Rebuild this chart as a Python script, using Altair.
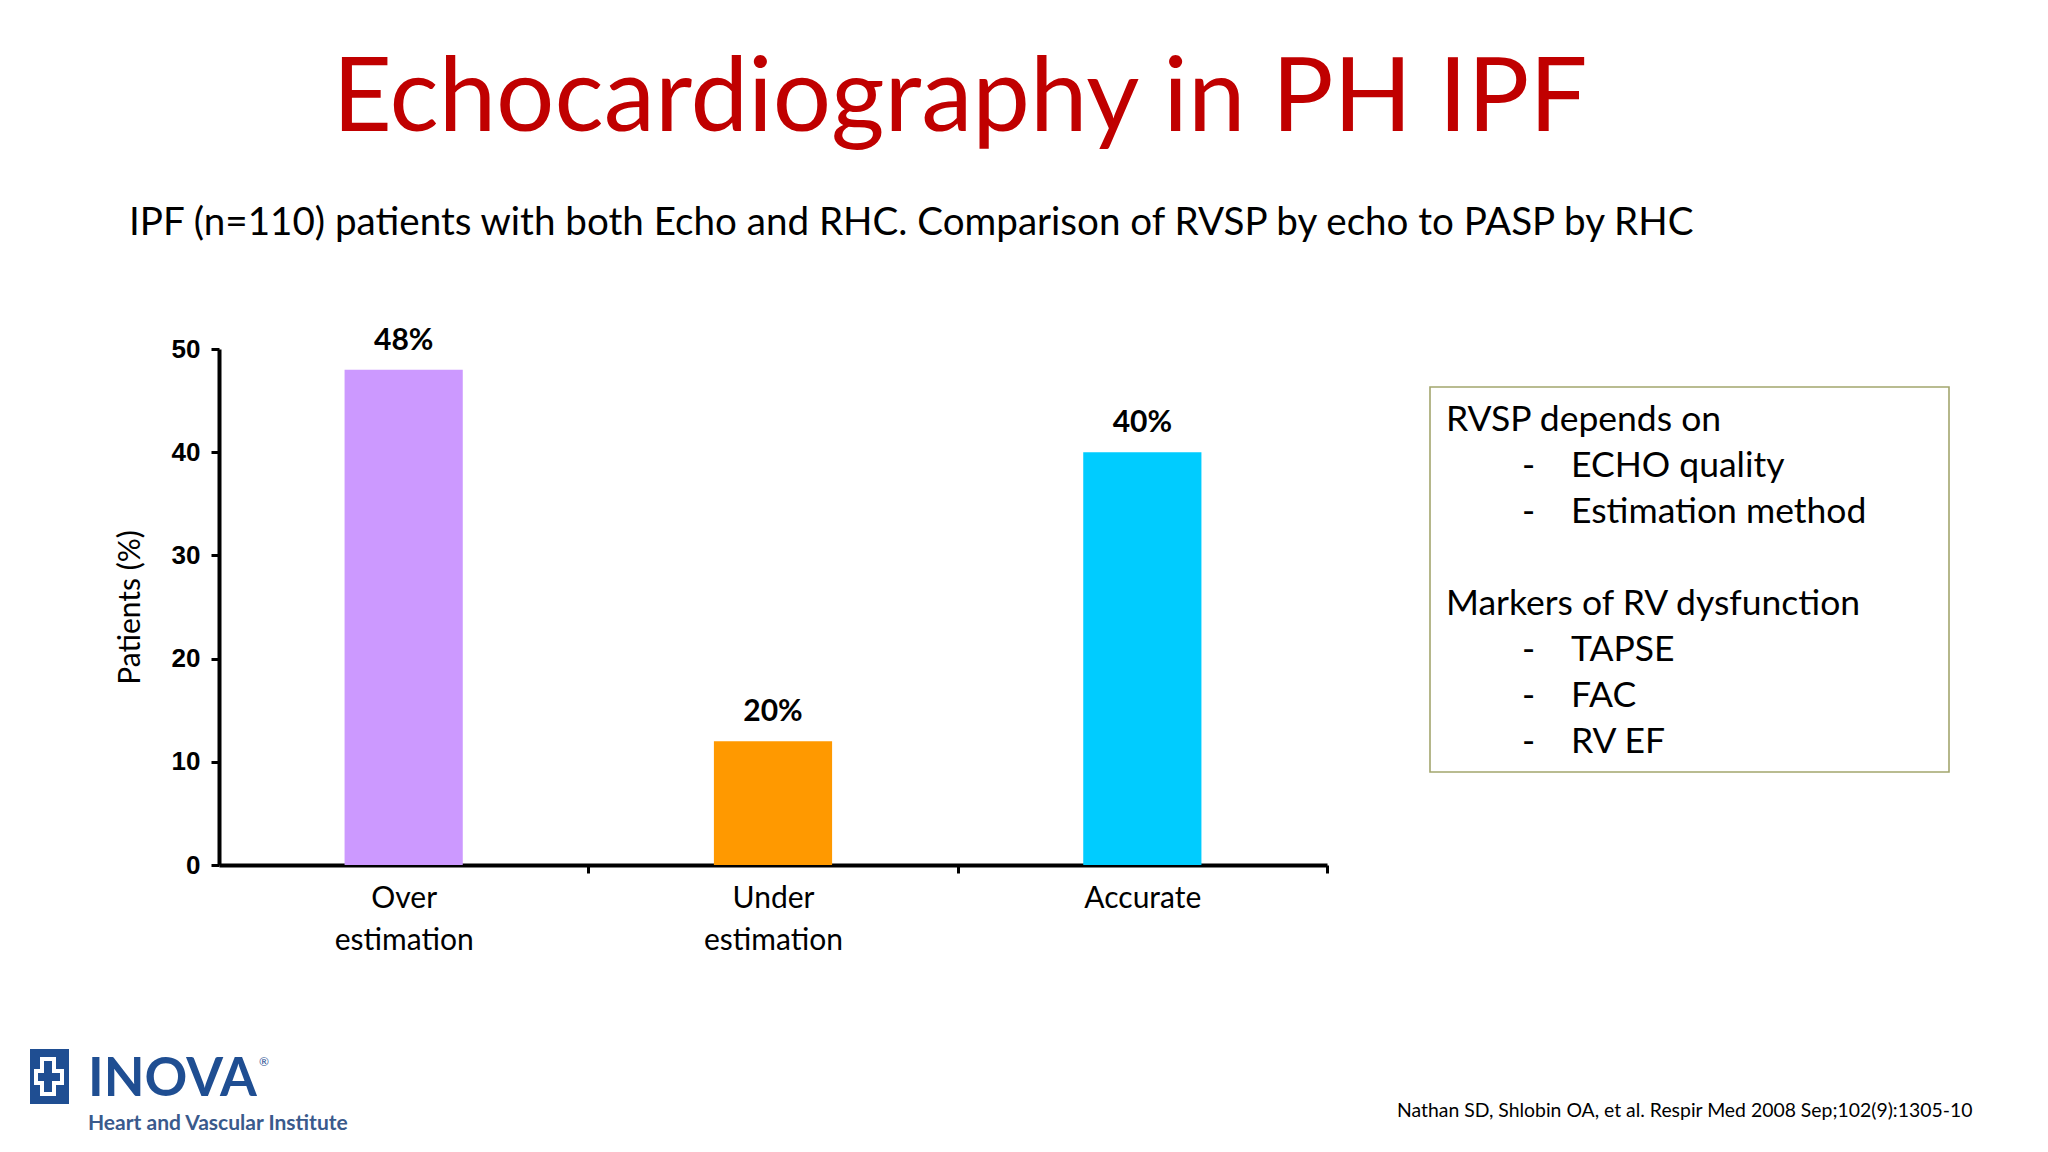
import altair as alt
import pandas as pd

# ---------------- data ----------------
categories = ["Over estimation", "Under estimation", "Accurate"]
values = [48, 12, 40]
bar_labels = ["48%", "20%", "40%"]
bar_colors = ["#CC99FF", "#FF9900", "#00CCFF"]
y_ticks = [0, 10, 20, 30, 40, 50]

title_text = "Echocardiography in PH IPF"
subtitle_text = "IPF (n=110) patients with both Echo and RHC. Comparison of RVSP by echo to PASP by RHC"
box_headings = ["RVSP depends on", "Markers of RV dysfunction"]
box_items_1 = ["ECHO quality", "Estimation method"]
box_items_2 = ["TAPSE", "FAC", "RV EF"]
citation = "Nathan SD, Shlobin OA, et al. Respir Med 2008 Sep;102(9):1305-10"
logo_name = "INOVA"
logo_sub = "Heart and Vascular Institute"

df = pd.DataFrame({"category": categories, "value": values, "label": bar_labels})
one = pd.DataFrame({"k": [0]})

# ---------------- layout ----------------
W, H = 1108, 516
L, T = 219, 349
FONT = "Lato"
half_step = W / len(categories) / 2

x_enc = alt.X(
    "category:N", sort=categories,
    scale=alt.Scale(paddingInner=0.68, paddingOuter=0.34),
    axis=alt.Axis(title=None, labelAngle=0, labelExpr="split(datum.label, ' ')",
                  labelFont=FONT, labelFontSize=30, labelColor="black",
                  labelLineHeight=42, labelPadding=10, labelLimit=500,
                  domainColor="black", domainWidth=4, tickColor="black",
                  tickWidth=3, tickSize=8, tickOffset=half_step,
                  labelOffset=-half_step))
y_enc = alt.Y(
    "value:Q", scale=alt.Scale(domain=[0, 50], nice=False),
    axis=alt.Axis(values=y_ticks, title="Patients (%)", titleFont=FONT,
                  titleFontSize=30, titleFontWeight="normal", titleColor="black",
                  titlePadding=26, labelFont="Liberation Sans", labelFontSize=26,
                  labelFontWeight="bold", labelColor="black", labelPadding=11,
                  domainColor="black", domainWidth=4, tickColor="black",
                  tickWidth=3, tickSize=8, grid=False))

bars = alt.Chart(df).mark_bar().encode(
    x=x_enc, y=y_enc,
    color=alt.Color("category:N", scale=alt.Scale(domain=categories, range=bar_colors), legend=None),
)
bar_text = alt.Chart(df).mark_text(dy=-20, baseline="alphabetic", font=FONT,
                                   fontWeight="bold", fontSize=30, color="black").encode(
    x=alt.X("category:N", sort=categories), y="value:Q", text="label:N")


def txt(s, x, y, **kw):
    return alt.Chart(one).mark_text(**kw).encode(
        x=alt.value(x), y=alt.value(y), text=alt.value(s))


def rect(x1, x2, y1, y2, **kw):
    return alt.Chart(one).mark_rect(**kw).encode(
        x=alt.value(x1), x2=alt.value(x2), y=alt.value(y1), y2=alt.value(y2))


title = txt(title_text, 960 - L, 131 - T, align="center", baseline="alphabetic",
            font=FONT, fontSize=103, color="#C00000")
subtitle = txt(subtitle_text, 129 - L, 235 - T, align="left", baseline="alphabetic",
               font=FONT, fontSize=38.6, color="black")

box = rect(1430 - L, 1949 - L, 387 - T, 772 - T, fill="white", fillOpacity=0,
           stroke="#A3A66E", strokeWidth=1.6)

# box lines: (text, kind) where kind 0 = heading, 1 = item, None = blank
box_lines = [(box_headings[0], 0)] + [(s, 1) for s in box_items_1] + [("", None)] + \
            [(box_headings[1], 0)] + [(s, 1) for s in box_items_2]
box_kw = dict(align="left", baseline="alphabetic", font=FONT, fontSize=35.5, color="black")
box_layers = []
for i, (s, kind) in enumerate(box_lines):
    yy = 431 - T + i * 46
    if kind == 0:
        box_layers.append(txt(s, 1446 - L, yy, **box_kw))
    elif kind == 1:
        box_layers.append(txt("-", 1522 - L, yy, **box_kw))
        box_layers.append(txt(s, 1571 - L, yy, **box_kw))

cite = txt(citation, 1397 - L, 1117 - T, align="left", baseline="alphabetic",
           font=FONT, fontSize=19.4, color="black")

logo_blue = "#1F4E92"
logo_sq = rect(30 - L, 69 - L, 1049 - T, 1104 - T, color=logo_blue)
cross_v_o = rect(40 - L, 56 - L, 1057 - T, 1096 - T, color="white")
cross_h_o = rect(34 - L, 64 - L, 1069 - T, 1085 - T, color="white")
cross_v_i = rect(44 - L, 52 - L, 1061 - T, 1092 - T, color=logo_blue)
cross_h_i = rect(38 - L, 60 - L, 1073 - T, 1081 - T, color=logo_blue)
logo_t = txt(logo_name, 88 - L, 1096 - T, align="left", baseline="alphabetic",
             font=FONT, fontWeight="bold", fontSize=53, color=logo_blue)
logo_r = txt("®", 259 - L, 1066 - T, align="left", baseline="alphabetic",
             font=FONT, fontSize=12, color=logo_blue)
logo_s = txt(logo_sub, 88 - L, 1130 - T, align="left", baseline="alphabetic",
             font=FONT, fontWeight="bold", fontSize=21, color="#3A5A8C")

chart = alt.layer(
    bars, bar_text, title, subtitle, box, *box_layers, cite,
    logo_sq, cross_v_o, cross_h_o, cross_v_i, cross_h_i, logo_t, logo_r, logo_s,
).properties(
    width=W, height=H,
    padding={"left": L, "top": T, "right": 2048 - L - W, "bottom": 1152 - T - H},
    autosize=alt.AutoSizeParams(type="none"),
    background="white",
).configure_view(stroke=None)

chart.save("out.html", embed_options={"renderer": "svg", "actions": False})
